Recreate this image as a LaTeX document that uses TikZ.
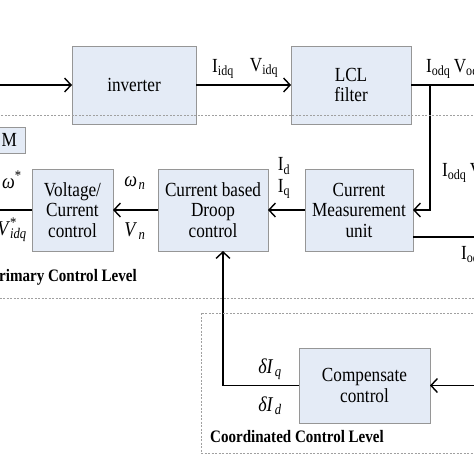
\documentclass[tikz,border=0pt]{standalone}
\usepackage{fontspec}
\setmainfont{Liberation Serif}[FakeStretch=0.86]
\usetikzlibrary{positioning,arrows.meta}

\definecolor{boxfill}{RGB}{228,235,246}
\definecolor{boxline}{RGB}{150,150,150}
\definecolor{levelline}{RGB}{160,160,160}

% upright and italic signal names
\newcommand{\sig}[2]{#1\textsubscript{#2}}
\newcommand{\isig}[2]{\textit{#1}\kern1.5pt\textsubscript{\textit{#2}}}

\begin{document}
\begin{tikzpicture}[
    x=1pt, y=-1pt,
    font=\fontsize{20}{20.5}\selectfont,
    block/.style = {
        draw=boxline, fill=boxfill, rectangle, align=center,
        line width=0.8pt, inner sep=0pt, outer sep=0pt,
        minimum height=82pt},
 siglabel/.style = {inner sep=0pt},
 mathlabel/.style = {inner sep=0pt, font=\fontsize{21}{22}\selectfont},
    level/.style = {
        draw=levelline, dash pattern=on 2pt off 1.5pt, line width=0.7pt},
levelname/.style = {
        font=\fontsize{17.5}{20}\selectfont\bfseries, inner sep=0pt},
    arrow/.style = {line width=1.4pt,
        -{Straight Barb[length=6.5pt,width=14pt,line width=1.4pt]}},
     wire/.style = {line width=1.4pt}
                    ]
\useasboundingbox (0,0) rectangle (474,474);
\clip (0,0) rectangle (474,474);
% the power stage at the top
\node (inv)   [block, minimum width=124pt, minimum height=78pt] at (134,85) {inverter};
\node (lcl)   [block, minimum width=120pt, minimum height=78pt, right=95pt of inv]
                                        {LCL\\filter};
% the primary control chain
\node (vcc)   [block, minimum width=81pt] at (72.5,210) {Voltage/\\Current\\control};
\node (droop) [block, minimum width=110pt, right=45pt of vcc]
                                        {Current based\\Droop\\control};
\node (cmu)   [block, minimum width=108pt, right=37pt of droop]
                                        {Current\\Measurement\\unit};
\node (pwm)   [block, text width=42pt, align=right, inner xsep=8pt,
               minimum height=26pt, anchor=east] at (25,140) {M};
% the coordinated level
\node (comp)  [block, minimum width=131pt, minimum height=75pt] at (364.5,385.5)
                                        {Compensate\\control};
% free ends at the border
\coordinate (inl)  at (0,85);
\coordinate (outr) at (474,85);
\coordinate (tap)  at (430,85);
\coordinate (cmur) at (474,237);
\coordinate (vccl) at (0,210);
\coordinate (compr) at (474,385.5);
% connectors
\draw[arrow] (inl) -- (inv);
\draw[arrow] (inv) -- (lcl);
\draw[wire]  (lcl) -- (outr);
\draw[arrow] (tap) |- (cmu.east);
\draw[wire]  (cmu.east |- cmur) -- (cmur);
\draw[arrow] (cmu) -- (droop);
\draw[arrow] (droop) -- (vcc);
\draw[wire]  (vcc) -- (vccl);
\draw[arrow] (comp.west) -| ([xshift=10pt] droop.south);
\draw[arrow] (compr) -- (comp);
% signal labels
\node[siglabel] at (223,69)  {\sig{I}{idq}};
\node[siglabel] at (264,68)  {\sig{V}{idq}};
\node[siglabel, anchor=west] at (426,69)  {\sig{I}{odq}\,\sig{V}{odq}};
\node[siglabel, anchor=west] at (442,173) {\sig{I}{odq}\,\sig{V}{odq}};
\node[siglabel, anchor=west] at (461,256) {\sig{I}{odq}};
\node[siglabel] at (284,166) {\sig{I}{d}};
\node[siglabel] at (284,189) {\sig{I}{q}};
\node[mathlabel] at (135,183) {\isig{ω}{n}};
\node[mathlabel] at (135,231) {\isig{V}{n}};
\node[mathlabel, anchor=east] at (22,180) {\textit{ω}\textsuperscript{*}};
\node[mathlabel, anchor=east] at (27,230)
                {\textit{V}\rlap{\textsuperscript{*}}\textsubscript{\textit{idq}}};
\node[mathlabel] at (270,369) {\isig{δI}{q}};
\node[mathlabel] at (270,406) {\isig{δI}{d}};
% the control levels
\draw[level] (-10,115) rectangle (484,298);
\draw[level] (201,313) rectangle (484,453);
\node[levelname, anchor=east] at (137,277) {Primary Control Level};
\node[levelname, anchor=west] at (210,437) {Coordinated Control Level};
\end{tikzpicture}
\end{document}
